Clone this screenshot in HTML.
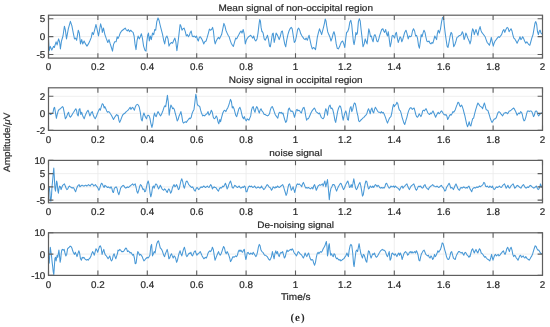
<!DOCTYPE html><html><head><meta charset="utf-8"><style>html,body{margin:0;padding:0;background:#fff;overflow:hidden;}svg{display:block;}text{font-family:"Liberation Sans",Arial,sans-serif;fill:#2b2b2b;text-rendering:geometricPrecision;stroke:#2b2b2b;stroke-width:0.22px;}</style></head><body>
<svg width="550" height="327" viewBox="0 0 550 327">
<rect width="550" height="327" fill="#fff"/>
<line x1="97.90" y1="15.20" x2="97.90" y2="58.10" stroke="#ebebeb" stroke-width="0.8"/>
<line x1="147.30" y1="15.20" x2="147.30" y2="58.10" stroke="#ebebeb" stroke-width="0.8"/>
<line x1="196.70" y1="15.20" x2="196.70" y2="58.10" stroke="#ebebeb" stroke-width="0.8"/>
<line x1="246.10" y1="15.20" x2="246.10" y2="58.10" stroke="#ebebeb" stroke-width="0.8"/>
<line x1="295.50" y1="15.20" x2="295.50" y2="58.10" stroke="#ebebeb" stroke-width="0.8"/>
<line x1="344.90" y1="15.20" x2="344.90" y2="58.10" stroke="#ebebeb" stroke-width="0.8"/>
<line x1="394.30" y1="15.20" x2="394.30" y2="58.10" stroke="#ebebeb" stroke-width="0.8"/>
<line x1="443.70" y1="15.20" x2="443.70" y2="58.10" stroke="#ebebeb" stroke-width="0.8"/>
<line x1="493.10" y1="15.20" x2="493.10" y2="58.10" stroke="#ebebeb" stroke-width="0.8"/>
<line x1="48.5" y1="54.52" x2="542.5" y2="54.52" stroke="#ebebeb" stroke-width="0.8"/>
<line x1="48.5" y1="36.65" x2="542.5" y2="36.65" stroke="#ebebeb" stroke-width="0.8"/>
<line x1="48.5" y1="18.77" x2="542.5" y2="18.77" stroke="#ebebeb" stroke-width="0.8"/>
<path d="M48.4,36.7 L49.2,50.7 L50.3,46.4 L51.8,50.1 L53.5,46.4 L54.3,47.5 L56.1,41.8 L57.1,44.9 L58.6,38.9 L59.6,41.8 L60.4,48.9 L61.5,41.0 L63.0,36.0 L64.4,26.2 L65.4,30.2 L66.5,38.9 L68.3,28.8 L70.4,21.3 L71.9,25.9 L73.3,33.1 L74.5,38.9 L75.5,38.1 L76.6,40.3 L78.3,30.2 L79.3,33.1 L80.5,43.9 L81.7,39.6 L82.7,43.9 L84.1,41.0 L85.5,43.9 L87.0,46.1 L88.4,43.9 L89.8,41.0 L91.3,37.4 L92.3,32.4 L93.4,34.6 L94.9,28.8 L96.0,24.5 L97.0,28.8 L98.5,36.0 L99.5,30.2 L100.6,23.8 L101.8,28.1 L102.3,32.4 L103.5,28.1 L104.9,34.6 L106.4,38.9 L107.8,42.5 L109.0,39.6 L110.0,43.2 L111.4,47.5 L112.5,51.1 L113.5,44.6 L114.7,41.8 L116.1,41.8 L117.2,36.7 L118.0,38.6 L119.2,36.0 L120.2,33.1 L121.6,31.0 L123.5,29.5 L125.2,28.1 L126.3,30.0 L127.3,31.0 L128.3,29.5 L129.5,31.7 L130.7,30.2 L131.7,31.4 L133.1,32.4 L134.1,36.0 L135.0,43.9 L136.0,49.6 L137.1,40.3 L138.1,36.0 L139.3,38.9 L140.3,36.7 L141.4,33.8 L142.4,38.1 L143.6,46.1 L145.0,50.4 L146.0,51.1 L146.8,41.8 L147.8,34.6 L148.5,33.1 L149.3,41.0 L150.3,36.0 L151.3,39.6 L152.5,33.1 L153.7,34.6 L154.7,29.5 L155.7,30.2 L156.8,21.6 L158.0,18.0 L159.0,20.2 L160.0,24.5 L161.1,28.8 L162.6,34.6 L163.7,40.3 L164.7,43.9 L165.7,38.1 L166.9,36.0 L168.0,38.9 L169.0,46.1 L170.0,43.9 L171.5,42.5 L172.6,43.2 L173.8,40.3 L174.9,38.1 L175.8,41.8 L176.9,50.7 L178.1,41.8 L179.1,33.1 L180.1,24.5 L180.9,25.9 L182.0,30.2 L183.0,28.8 L184.1,28.1 L185.3,31.7 L186.3,36.0 L187.4,34.6 L188.4,36.7 L189.4,35.3 L190.0,33.1 L191.2,31.0 L192.2,36.0 L193.2,36.7 L194.3,36.0 L195.5,37.4 L196.5,36.0 L197.5,39.6 L198.3,41.0 L199.3,37.4 L200.3,36.7 L201.5,38.6 L202.7,41.0 L203.7,43.9 L204.8,41.8 L206.1,41.0 L207.2,37.4 L208.4,33.1 L209.4,29.1 L210.4,30.2 L211.6,29.5 L212.6,27.4 L213.4,31.0 L214.4,40.3 L215.2,43.9 L216.2,41.0 L217.3,38.9 L218.5,37.4 L219.5,38.9 L220.5,36.7 L221.6,34.6 L222.8,28.8 L223.9,23.4 L224.9,25.9 L225.9,30.2 L227.1,33.1 L228.1,35.3 L229.1,36.7 L230.2,40.3 L231.2,43.2 L232.4,45.3 L233.4,46.4 L234.6,41.8 L235.7,38.1 L236.7,38.9 L237.7,36.7 L238.9,34.6 L240.0,32.4 L241.0,31.0 L242.0,33.1 L243.2,29.5 L244.2,33.8 L245.3,43.9 L246.3,40.3 L247.5,38.1 L248.6,36.7 L249.7,36.0 L250.7,35.3 L251.8,36.7 L252.8,38.1 L253.7,36.0 L254.7,39.6 L255.8,41.0 L257.0,38.9 L258.0,33.1 L259.0,24.5 L259.7,19.5 L260.4,20.9 L261.1,27.4 L261.9,31.7 L262.0,31.0 L263.1,33.1 L264.2,38.9 L265.2,40.3 L266.3,38.1 L267.5,35.3 L268.5,39.6 L269.5,46.1 L270.3,46.8 L271.3,41.0 L272.4,33.8 L273.2,33.1 L274.2,42.5 L275.2,38.1 L276.1,33.1 L277.1,34.6 L278.1,36.7 L279.2,39.6 L280.4,36.0 L281.4,31.7 L282.4,31.0 L283.6,38.1 L284.7,43.9 L285.7,46.8 L286.7,40.3 L287.9,34.6 L289.0,31.0 L290.0,28.8 L291.2,27.4 L292.2,28.8 L293.3,36.0 L294.3,42.5 L295.4,41.0 L296.5,36.0 L297.6,29.5 L298.6,28.1 L299.7,30.2 L300.8,33.8 L302.0,36.0 L303.0,37.4 L304.0,38.9 L305.1,39.6 L306.1,38.1 L307.3,40.3 L308.3,37.4 L309.1,35.3 L310.1,40.3 L311.2,45.3 L312.3,48.9 L313.5,47.5 L314.5,48.2 L315.5,49.6 L316.3,44.6 L317.3,37.4 L318.3,33.1 L319.5,28.8 L320.6,31.7 L321.6,34.6 L322.4,31.7 L323.5,27.4 L324.5,23.1 L325.2,19.0 L326.0,20.9 L326.7,25.9 L327.7,31.7 L328.8,34.6 L329.8,36.7 L331.0,41.0 L332.1,38.1 L333.1,33.8 L333.9,31.7 L334.0,31.7 L335.1,36.0 L336.2,43.9 L337.2,48.2 L338.3,48.9 L339.5,46.8 L340.5,43.9 L341.5,41.8 L342.6,41.0 L343.8,43.9 L344.8,47.5 L345.8,38.1 L346.6,32.4 L347.6,31.7 L348.7,28.8 L349.8,22.3 L350.8,20.2 L351.7,24.5 L352.4,31.7 L353.4,41.8 L354.1,44.6 L355.1,38.9 L355.9,32.4 L356.7,34.6 L357.4,33.1 L358.4,21.6 L359.3,18.8 L360.2,20.9 L361.0,28.8 L362.0,37.4 L363.0,46.8 L364.2,43.9 L365.2,38.9 L366.2,41.8 L367.1,43.9 L367.9,36.7 L368.8,28.8 L369.6,31.7 L370.5,36.7 L371.4,36.0 L372.2,39.6 L373.1,41.8 L374.0,36.0 L375.0,34.6 L376.0,37.4 L376.8,41.0 L377.8,41.8 L378.8,38.9 L379.7,35.3 L380.7,32.4 L381.7,29.5 L382.9,28.8 L383.7,31.0 L384.6,32.4 L385.7,29.5 L386.6,33.8 L387.5,36.0 L388.3,31.7 L389.3,39.6 L390.2,46.8 L391.2,42.5 L392.1,36.0 L392.9,35.3 L393.8,36.7 L394.6,38.1 L395.5,33.8 L396.4,32.4 L397.2,37.4 L398.2,42.5 L399.2,39.6 L400.1,36.7 L401.0,38.1 L401.8,41.8 L402.7,39.6 L403.7,36.0 L404.7,32.4 L405.9,30.2 L406.0,30.2 L407.1,33.8 L408.2,38.9 L409.2,36.0 L410.3,36.7 L411.5,36.0 L412.5,31.0 L413.5,28.8 L414.6,31.0 L415.6,36.0 L416.5,35.3 L417.5,38.1 L418.5,45.3 L419.4,48.2 L420.4,41.0 L421.2,34.6 L422.1,36.7 L423.0,33.1 L424.0,30.2 L425.0,32.4 L425.8,36.7 L426.8,41.0 L427.9,41.8 L429.0,41.0 L430.0,43.2 L430.9,43.9 L431.9,42.5 L432.9,43.2 L433.7,40.3 L434.8,36.0 L435.8,38.1 L436.6,39.6 L437.3,33.8 L438.3,30.2 L439.4,33.1 L440.5,28.8 L441.6,21.6 L442.6,17.3 L443.7,18.8 L444.5,27.4 L445.4,34.6 L446.2,40.3 L447.1,46.1 L448.0,47.5 L449.1,41.8 L450.1,36.0 L451.1,32.4 L452.0,33.8 L452.9,40.3 L453.7,46.8 L454.9,44.6 L456.0,41.0 L457.0,37.4 L458.2,36.7 L459.2,35.7 L460.3,35.3 L461.3,34.6 L462.3,31.7 L463.2,33.8 L464.1,39.6 L464.9,37.4 L465.8,33.1 L466.6,34.6 L467.8,38.1 L468.8,40.3 L469.7,42.5 L470.0,43.9 L471.0,40.3 L471.7,33.1 L472.6,28.8 L473.4,30.2 L474.3,34.6 L475.2,31.7 L476.0,29.5 L476.9,32.4 L477.9,35.3 L478.9,30.2 L480.1,26.6 L480.9,30.2 L481.8,32.4 L482.9,33.8 L484.1,35.3 L485.1,36.7 L486.1,39.6 L487.2,42.5 L488.4,43.9 L489.4,45.3 L490.4,41.8 L491.3,37.4 L492.3,41.8 L493.3,46.1 L494.1,43.2 L495.1,41.0 L496.2,39.6 L497.3,38.1 L498.5,36.7 L499.5,37.4 L500.5,36.0 L501.6,34.6 L502.8,31.0 L503.8,29.5 L504.8,32.4 L505.9,29.5 L507.1,27.4 L508.1,28.1 L509.1,31.7 L510.0,30.2 L511.0,28.8 L512.0,31.0 L512.8,34.6 L513.8,38.1 L514.8,38.9 L516.0,41.0 L517.1,43.2 L518.1,41.0 L519.2,38.9 L520.0,36.7 L520.9,39.6 L521.7,38.9 L522.6,36.7 L523.5,38.1 L524.6,41.0 L525.8,43.2 L526.8,41.8 L527.8,43.2 L528.9,44.6 L529.8,45.3 L530.6,42.5 L531.8,38.1 L533.0,34.6 L534.0,28.8 L535.0,23.1 L535.8,21.6 L536.7,24.5 L537.5,31.7 L538.4,34.6 L539.3,31.0 L540.1,30.2 L541.0,33.1 L541.9,33.8 L542.6,34.6" fill="none" stroke="#4898d6" stroke-width="1.05" stroke-linejoin="round"/>
<rect x="48.5" y="15.2" width="494.0" height="42.90" fill="none" stroke="#5e5e5e" stroke-width="1.2"/>
<path d="M48.50,58.1V53.20M48.50,15.2V20.10" stroke="#5e5e5e" stroke-width="1.1"/>
<text x="48.50" y="70.20" font-size="9.8" text-anchor="middle">0</text>
<path d="M97.90,58.1V53.20M97.90,15.2V20.10" stroke="#5e5e5e" stroke-width="1.1"/>
<text x="97.90" y="70.20" font-size="9.8" text-anchor="middle">0.2</text>
<path d="M147.30,58.1V53.20M147.30,15.2V20.10" stroke="#5e5e5e" stroke-width="1.1"/>
<text x="147.30" y="70.20" font-size="9.8" text-anchor="middle">0.4</text>
<path d="M196.70,58.1V53.20M196.70,15.2V20.10" stroke="#5e5e5e" stroke-width="1.1"/>
<text x="196.70" y="70.20" font-size="9.8" text-anchor="middle">0.6</text>
<path d="M246.10,58.1V53.20M246.10,15.2V20.10" stroke="#5e5e5e" stroke-width="1.1"/>
<text x="246.10" y="70.20" font-size="9.8" text-anchor="middle">0.8</text>
<path d="M295.50,58.1V53.20M295.50,15.2V20.10" stroke="#5e5e5e" stroke-width="1.1"/>
<text x="295.50" y="70.20" font-size="9.8" text-anchor="middle">1</text>
<path d="M344.90,58.1V53.20M344.90,15.2V20.10" stroke="#5e5e5e" stroke-width="1.1"/>
<text x="344.90" y="70.20" font-size="9.8" text-anchor="middle">1.2</text>
<path d="M394.30,58.1V53.20M394.30,15.2V20.10" stroke="#5e5e5e" stroke-width="1.1"/>
<text x="394.30" y="70.20" font-size="9.8" text-anchor="middle">1.4</text>
<path d="M443.70,58.1V53.20M443.70,15.2V20.10" stroke="#5e5e5e" stroke-width="1.1"/>
<text x="443.70" y="70.20" font-size="9.8" text-anchor="middle">1.6</text>
<path d="M493.10,58.1V53.20M493.10,15.2V20.10" stroke="#5e5e5e" stroke-width="1.1"/>
<text x="493.10" y="70.20" font-size="9.8" text-anchor="middle">1.8</text>
<path d="M542.50,58.1V53.20M542.50,15.2V20.10" stroke="#5e5e5e" stroke-width="1.1"/>
<text x="542.50" y="70.20" font-size="9.8" text-anchor="middle">2</text>
<path d="M48.5,54.52H53.40M542.5,54.52H537.60" stroke="#5e5e5e" stroke-width="1.1"/>
<text x="45.30" y="58.02" font-size="9.8" text-anchor="end">-5</text>
<path d="M48.5,36.65H53.40M542.5,36.65H537.60" stroke="#5e5e5e" stroke-width="1.1"/>
<text x="45.30" y="40.15" font-size="9.8" text-anchor="end">0</text>
<path d="M48.5,18.77H53.40M542.5,18.77H537.60" stroke="#5e5e5e" stroke-width="1.1"/>
<text x="45.30" y="22.27" font-size="9.8" text-anchor="end">5</text>
<text transform="translate(295.70,11.10) scale(1,0.93)" font-size="10" text-anchor="middle">Mean signal of non-occipital region</text>
<line x1="97.90" y1="87.80" x2="97.90" y2="130.40" stroke="#ebebeb" stroke-width="0.8"/>
<line x1="147.30" y1="87.80" x2="147.30" y2="130.40" stroke="#ebebeb" stroke-width="0.8"/>
<line x1="196.70" y1="87.80" x2="196.70" y2="130.40" stroke="#ebebeb" stroke-width="0.8"/>
<line x1="246.10" y1="87.80" x2="246.10" y2="130.40" stroke="#ebebeb" stroke-width="0.8"/>
<line x1="295.50" y1="87.80" x2="295.50" y2="130.40" stroke="#ebebeb" stroke-width="0.8"/>
<line x1="344.90" y1="87.80" x2="344.90" y2="130.40" stroke="#ebebeb" stroke-width="0.8"/>
<line x1="394.30" y1="87.80" x2="394.30" y2="130.40" stroke="#ebebeb" stroke-width="0.8"/>
<line x1="443.70" y1="87.80" x2="443.70" y2="130.40" stroke="#ebebeb" stroke-width="0.8"/>
<line x1="493.10" y1="87.80" x2="493.10" y2="130.40" stroke="#ebebeb" stroke-width="0.8"/>
<line x1="48.5" y1="113.36" x2="542.5" y2="113.36" stroke="#ebebeb" stroke-width="0.8"/>
<line x1="48.5" y1="96.32" x2="542.5" y2="96.32" stroke="#ebebeb" stroke-width="0.8"/>
<path d="M48.4,113.5 L49.6,113.8 L50.6,114.5 L51.8,113.8 L52.9,113.0 L53.9,108.0 L54.6,107.3 L55.3,111.6 L56.4,118.3 L57.2,114.5 L58.2,110.9 L59.2,109.4 L60.4,108.7 L61.5,107.7 L62.5,106.6 L63.2,107.3 L64.2,112.3 L65.4,118.8 L66.4,117.3 L67.6,113.8 L68.6,112.3 L69.4,115.9 L70.4,117.3 L71.4,115.9 L72.6,113.8 L73.6,112.3 L74.8,110.2 L75.8,108.7 L76.5,110.2 L77.3,114.5 L78.2,115.9 L79.1,109.4 L79.9,108.7 L80.8,114.5 L81.7,112.3 L82.5,115.2 L83.4,117.3 L84.2,118.8 L85.1,115.9 L86.0,113.8 L87.0,111.6 L88.0,110.2 L88.8,112.3 L89.8,115.9 L90.6,114.5 L91.4,112.3 L92.3,111.6 L93.1,114.5 L94.2,117.3 L95.2,118.8 L96.3,116.6 L97.3,113.8 L98.5,110.9 L99.5,108.7 L100.3,110.2 L101.3,106.6 L102.3,103.7 L103.2,104.4 L104.2,108.0 L104.9,106.6 L105.8,108.7 L106.7,110.9 L107.5,112.3 L108.5,111.6 L109.5,112.3 L110.4,113.8 L111.4,115.2 L112.4,117.3 L113.5,119.5 L114.7,117.3 L115.7,115.9 L116.7,114.5 L117.9,115.9 L118.0,115.2 L118.9,120.2 L119.7,122.4 L120.9,119.5 L122.0,116.6 L123.0,114.5 L124.0,113.8 L125.2,113.0 L126.2,111.6 L127.2,110.9 L128.1,110.2 L129.1,108.7 L130.1,107.3 L130.9,109.4 L131.8,108.0 L132.7,107.3 L133.5,108.7 L134.4,110.2 L135.2,107.3 L136.2,105.1 L137.3,104.4 L138.4,105.1 L139.3,107.3 L140.3,112.3 L141.3,119.5 L142.2,120.9 L143.0,115.9 L143.9,113.0 L144.7,115.2 L145.6,117.3 L146.5,118.8 L147.3,115.9 L148.2,115.2 L149.1,115.9 L149.9,118.1 L150.8,123.1 L151.9,127.4 L152.8,123.8 L153.7,116.6 L154.5,113.0 L155.4,115.9 L156.2,116.6 L157.1,113.8 L158.0,111.6 L158.8,113.0 L159.7,114.5 L160.5,115.9 L161.4,114.5 L162.3,112.3 L163.1,110.2 L164.0,107.3 L164.9,105.8 L165.7,106.6 L166.6,100.8 L167.4,95.3 L168.3,102.2 L169.2,115.2 L170.0,109.4 L170.9,105.1 L171.8,106.6 L172.6,108.7 L173.5,108.0 L174.3,109.4 L175.2,113.0 L176.2,116.6 L177.2,120.9 L178.1,119.5 L179.1,115.9 L180.1,113.8 L180.9,111.6 L181.8,115.9 L182.7,121.7 L183.5,123.1 L184.4,122.4 L185.3,121.7 L186.3,122.4 L187.3,120.9 L188.4,119.5 L189.4,118.1 L190.0,118.8 L191.2,117.3 L192.0,113.8 L192.9,111.6 L194.0,109.4 L194.9,102.2 L195.8,94.3 L196.5,97.2 L197.2,103.7 L198.1,105.8 L198.9,105.8 L199.8,106.6 L200.6,110.2 L201.5,113.0 L202.7,115.9 L203.7,115.2 L204.7,115.9 L205.8,114.5 L207.0,113.8 L208.0,111.6 L209.0,115.2 L210.1,113.8 L211.3,110.2 L212.3,112.3 L213.3,117.3 L214.2,118.8 L215.2,118.1 L216.2,115.9 L217.0,117.3 L218.0,121.7 L218.8,123.8 L219.8,119.5 L220.6,121.7 L221.6,117.3 L222.8,113.0 L223.8,110.9 L224.8,110.2 L225.9,111.6 L226.8,109.4 L227.7,108.0 L228.8,105.1 L229.7,102.2 L230.5,99.4 L231.4,101.5 L232.3,108.0 L233.1,106.6 L234.0,108.7 L234.8,111.6 L235.7,115.2 L236.7,116.6 L237.7,113.0 L238.9,108.7 L239.9,107.3 L240.9,110.2 L241.7,113.8 L242.6,117.3 L243.5,118.8 L244.3,116.6 L245.3,119.5 L246.3,120.9 L247.2,118.8 L248.1,119.5 L248.9,120.2 L249.8,118.1 L250.7,115.9 L251.5,110.2 L252.4,107.3 L253.2,106.6 L254.1,110.2 L255.0,112.3 L255.8,108.7 L256.7,106.6 L257.6,108.0 L258.4,110.9 L259.3,113.0 L260.1,110.2 L261.0,108.7 L261.9,110.9 L262.0,110.9 L263.1,112.3 L264.2,114.5 L265.2,114.5 L266.3,115.2 L267.5,115.9 L268.5,115.2 L269.5,113.8 L270.3,110.2 L271.3,107.3 L272.4,106.6 L273.2,108.7 L274.2,111.6 L275.2,114.5 L276.1,115.9 L277.1,117.3 L277.8,118.1 L278.7,113.8 L279.5,112.3 L280.4,113.0 L281.3,112.3 L282.1,113.8 L283.0,113.0 L283.9,116.6 L284.7,119.5 L285.7,122.4 L286.7,120.9 L287.6,115.2 L288.4,109.4 L289.3,108.0 L290.2,110.2 L291.0,111.6 L291.9,110.9 L292.8,111.6 L293.6,113.8 L294.5,117.3 L295.4,113.8 L296.2,110.2 L297.1,109.4 L297.9,110.9 L298.8,110.2 L299.7,110.9 L300.5,112.3 L301.4,113.0 L302.2,110.2 L303.1,108.0 L304.0,107.3 L304.8,110.2 L305.7,115.9 L306.6,120.2 L307.4,118.8 L308.3,118.8 L309.1,117.3 L310.0,115.2 L310.9,113.0 L312.0,110.9 L313.2,109.4 L314.3,108.0 L315.2,109.4 L316.0,111.6 L316.9,112.3 L317.8,113.0 L318.6,113.8 L319.5,113.0 L320.4,115.2 L321.2,117.3 L322.1,118.1 L323.1,118.8 L324.1,117.3 L324.9,112.3 L325.8,108.7 L326.7,110.9 L327.5,115.2 L328.4,108.7 L329.3,105.8 L330.1,105.1 L331.0,108.7 L331.9,108.0 L332.7,109.4 L333.6,113.0 L334.0,115.2 L334.9,120.2 L335.7,122.4 L336.6,117.3 L337.6,111.6 L338.6,108.0 L339.8,105.8 L340.6,106.6 L341.5,110.2 L342.3,115.9 L343.2,120.2 L344.1,115.9 L344.9,113.0 L345.8,110.9 L346.6,113.8 L347.5,119.5 L348.4,120.2 L349.2,113.0 L350.1,108.0 L351.0,106.6 L351.8,111.6 L352.7,109.4 L353.6,105.1 L354.4,103.0 L355.3,103.7 L356.1,107.3 L357.0,112.3 L357.9,115.9 L358.7,120.9 L359.6,121.7 L360.6,120.2 L361.6,119.5 L362.8,118.1 L363.9,117.3 L365.1,115.9 L365.9,115.2 L366.8,113.8 L367.6,110.9 L368.5,108.7 L369.4,110.9 L370.2,113.8 L371.1,109.4 L371.9,108.0 L372.8,111.6 L373.7,113.0 L374.5,109.4 L375.4,107.3 L376.3,108.7 L377.1,110.2 L378.0,111.6 L378.8,112.3 L379.7,112.3 L380.6,113.0 L381.4,111.6 L382.3,113.0 L383.2,112.3 L384.0,113.8 L384.9,115.9 L385.7,118.1 L386.6,120.9 L387.5,123.1 L388.3,120.9 L389.2,118.8 L390.1,117.3 L390.9,116.6 L391.8,113.0 L392.6,108.0 L393.5,104.4 L394.4,106.6 L395.2,105.1 L396.1,104.4 L396.9,102.2 L397.8,103.7 L398.7,108.0 L399.5,110.2 L400.4,110.9 L401.3,113.8 L402.1,117.3 L403.0,120.2 L403.9,123.1 L404.7,124.5 L405.6,121.7 L406.0,120.2 L406.9,117.3 L407.7,113.8 L408.6,110.9 L409.6,108.7 L410.6,107.7 L411.5,108.0 L412.3,109.4 L413.2,108.7 L414.1,108.0 L414.9,110.9 L415.8,114.5 L416.6,116.6 L417.5,117.3 L418.4,115.9 L419.2,113.8 L420.1,115.2 L420.9,116.6 L421.8,114.5 L422.7,110.9 L423.5,110.2 L424.4,110.9 L425.3,109.4 L426.1,108.7 L427.0,110.9 L427.9,113.0 L428.7,113.8 L429.6,114.5 L430.4,113.0 L431.3,113.8 L432.2,112.3 L433.0,110.9 L433.9,113.0 L434.8,115.2 L435.6,117.3 L436.5,115.2 L437.3,113.8 L438.2,112.3 L439.1,113.8 L439.9,113.0 L440.8,111.6 L441.6,110.9 L442.5,112.3 L443.4,113.8 L444.2,114.5 L445.1,115.2 L446.0,114.5 L446.8,115.9 L447.7,119.5 L448.5,118.1 L449.4,115.9 L450.3,114.5 L451.1,115.2 L452.0,113.8 L452.9,111.6 L453.7,112.3 L454.6,110.9 L455.4,109.4 L456.3,106.6 L457.2,104.4 L458.0,102.2 L458.9,103.0 L459.8,105.8 L460.6,106.6 L461.5,105.1 L462.3,106.6 L463.2,109.4 L464.1,113.0 L464.9,115.9 L465.8,120.2 L466.6,123.8 L467.5,126.7 L468.4,124.5 L469.2,121.7 L470.0,125.2 L470.9,126.0 L471.7,122.4 L472.6,118.8 L473.6,118.1 L474.6,113.8 L475.8,109.4 L476.9,105.8 L477.9,103.0 L478.9,104.4 L479.8,105.8 L480.8,106.6 L481.8,107.3 L482.6,108.7 L483.6,105.1 L484.4,103.0 L485.2,105.8 L486.1,109.4 L487.0,110.2 L487.8,110.2 L488.7,113.0 L489.6,115.9 L490.4,118.8 L491.3,120.9 L492.1,122.4 L493.0,120.9 L493.9,119.5 L494.7,118.8 L495.6,118.8 L496.4,117.3 L497.3,114.5 L498.2,112.3 L499.0,111.6 L499.9,112.3 L500.8,113.8 L501.6,114.5 L502.5,115.9 L503.4,114.5 L504.2,113.0 L505.1,113.0 L505.9,112.3 L506.8,113.0 L507.7,113.8 L508.5,112.3 L509.4,110.9 L510.2,110.9 L511.1,110.2 L512.0,109.4 L512.8,108.7 L513.7,108.0 L514.6,109.4 L515.4,110.9 L516.3,113.0 L517.1,115.2 L518.0,113.8 L518.9,113.0 L519.7,113.8 L520.6,111.6 L521.5,112.3 L522.3,114.5 L523.2,118.8 L524.0,120.9 L524.9,120.2 L525.8,117.3 L526.6,113.8 L527.5,110.9 L528.4,110.9 L529.2,111.6 L530.1,110.9 L530.9,110.9 L531.8,111.6 L532.7,113.8 L533.5,116.6 L534.4,115.2 L535.2,111.6 L536.1,110.9 L537.0,111.6 L537.8,114.5 L538.7,115.9 L539.6,114.5 L540.4,113.8 L541.3,113.0 L542.3,113.0" fill="none" stroke="#4898d6" stroke-width="1.05" stroke-linejoin="round"/>
<rect x="48.5" y="87.8" width="494.0" height="42.60" fill="none" stroke="#5e5e5e" stroke-width="1.2"/>
<path d="M48.50,130.4V125.50M48.50,87.8V92.70" stroke="#5e5e5e" stroke-width="1.1"/>
<text x="48.50" y="142.50" font-size="9.8" text-anchor="middle">0</text>
<path d="M97.90,130.4V125.50M97.90,87.8V92.70" stroke="#5e5e5e" stroke-width="1.1"/>
<text x="97.90" y="142.50" font-size="9.8" text-anchor="middle">0.2</text>
<path d="M147.30,130.4V125.50M147.30,87.8V92.70" stroke="#5e5e5e" stroke-width="1.1"/>
<text x="147.30" y="142.50" font-size="9.8" text-anchor="middle">0.4</text>
<path d="M196.70,130.4V125.50M196.70,87.8V92.70" stroke="#5e5e5e" stroke-width="1.1"/>
<text x="196.70" y="142.50" font-size="9.8" text-anchor="middle">0.6</text>
<path d="M246.10,130.4V125.50M246.10,87.8V92.70" stroke="#5e5e5e" stroke-width="1.1"/>
<text x="246.10" y="142.50" font-size="9.8" text-anchor="middle">0.8</text>
<path d="M295.50,130.4V125.50M295.50,87.8V92.70" stroke="#5e5e5e" stroke-width="1.1"/>
<text x="295.50" y="142.50" font-size="9.8" text-anchor="middle">1</text>
<path d="M344.90,130.4V125.50M344.90,87.8V92.70" stroke="#5e5e5e" stroke-width="1.1"/>
<text x="344.90" y="142.50" font-size="9.8" text-anchor="middle">1.2</text>
<path d="M394.30,130.4V125.50M394.30,87.8V92.70" stroke="#5e5e5e" stroke-width="1.1"/>
<text x="394.30" y="142.50" font-size="9.8" text-anchor="middle">1.4</text>
<path d="M443.70,130.4V125.50M443.70,87.8V92.70" stroke="#5e5e5e" stroke-width="1.1"/>
<text x="443.70" y="142.50" font-size="9.8" text-anchor="middle">1.6</text>
<path d="M493.10,130.4V125.50M493.10,87.8V92.70" stroke="#5e5e5e" stroke-width="1.1"/>
<text x="493.10" y="142.50" font-size="9.8" text-anchor="middle">1.8</text>
<path d="M542.50,130.4V125.50M542.50,87.8V92.70" stroke="#5e5e5e" stroke-width="1.1"/>
<text x="542.50" y="142.50" font-size="9.8" text-anchor="middle">2</text>
<path d="M48.5,130.40H53.40M542.5,130.40H537.60" stroke="#5e5e5e" stroke-width="1.1"/>
<text x="45.30" y="133.90" font-size="9.8" text-anchor="end">-2</text>
<path d="M48.5,113.36H53.40M542.5,113.36H537.60" stroke="#5e5e5e" stroke-width="1.1"/>
<text x="45.30" y="116.86" font-size="9.8" text-anchor="end">0</text>
<path d="M48.5,96.32H53.40M542.5,96.32H537.60" stroke="#5e5e5e" stroke-width="1.1"/>
<text x="45.30" y="99.82" font-size="9.8" text-anchor="end">2</text>
<text transform="translate(295.70,83.20) scale(1,0.93)" font-size="10" text-anchor="middle">Noisy signal in occipital region</text>
<line x1="97.90" y1="160.40" x2="97.90" y2="202.80" stroke="#ebebeb" stroke-width="0.8"/>
<line x1="147.30" y1="160.40" x2="147.30" y2="202.80" stroke="#ebebeb" stroke-width="0.8"/>
<line x1="196.70" y1="160.40" x2="196.70" y2="202.80" stroke="#ebebeb" stroke-width="0.8"/>
<line x1="246.10" y1="160.40" x2="246.10" y2="202.80" stroke="#ebebeb" stroke-width="0.8"/>
<line x1="295.50" y1="160.40" x2="295.50" y2="202.80" stroke="#ebebeb" stroke-width="0.8"/>
<line x1="344.90" y1="160.40" x2="344.90" y2="202.80" stroke="#ebebeb" stroke-width="0.8"/>
<line x1="394.30" y1="160.40" x2="394.30" y2="202.80" stroke="#ebebeb" stroke-width="0.8"/>
<line x1="443.70" y1="160.40" x2="443.70" y2="202.80" stroke="#ebebeb" stroke-width="0.8"/>
<line x1="493.10" y1="160.40" x2="493.10" y2="202.80" stroke="#ebebeb" stroke-width="0.8"/>
<line x1="48.5" y1="200.15" x2="542.5" y2="200.15" stroke="#ebebeb" stroke-width="0.8"/>
<line x1="48.5" y1="186.90" x2="542.5" y2="186.90" stroke="#ebebeb" stroke-width="0.8"/>
<line x1="48.5" y1="173.65" x2="542.5" y2="173.65" stroke="#ebebeb" stroke-width="0.8"/>
<path d="M48.4,187.5 L49.2,186.8 L49.9,192.5 L50.3,200.4 L50.9,201.1 L51.5,195.4 L52.0,186.8 L52.6,181.0 L53.2,173.8 L53.8,168.1 L54.3,176.7 L54.9,188.2 L55.5,191.1 L56.1,185.3 L56.6,181.0 L57.2,183.2 L57.8,190.3 L58.4,193.2 L58.9,188.9 L59.6,186.0 L60.4,186.8 L61.1,189.6 L61.8,187.5 L62.7,185.3 L63.5,184.6 L64.4,183.9 L65.3,186.0 L66.1,188.2 L67.0,189.6 L67.8,188.9 L68.7,186.8 L69.6,186.0 L70.4,186.8 L71.3,187.5 L72.2,188.2 L73.0,187.5 L73.9,188.2 L74.8,190.3 L75.6,191.8 L76.5,188.9 L77.3,186.8 L78.2,185.3 L79.1,184.6 L79.9,186.8 L80.8,186.0 L81.7,185.3 L82.5,185.3 L83.4,186.0 L84.2,186.0 L85.1,185.3 L86.0,185.3 L86.8,186.0 L87.7,185.3 L88.5,184.6 L89.4,185.3 L90.3,186.0 L91.1,184.6 L92.0,183.9 L92.9,184.6 L93.7,186.0 L94.6,185.3 L95.4,184.6 L96.3,186.0 L97.2,186.8 L98.0,188.2 L98.9,190.3 L99.8,188.2 L100.6,185.3 L101.5,183.2 L102.3,183.9 L103.2,186.0 L104.1,187.5 L104.9,185.3 L105.8,186.0 L106.7,186.8 L107.5,187.5 L108.4,186.8 L109.2,187.5 L110.1,188.2 L111.0,186.8 L111.8,188.2 L112.7,191.8 L113.5,192.5 L114.4,188.2 L115.3,187.5 L116.1,186.8 L117.0,188.2 L117.9,192.5 L118.0,192.5 L118.9,194.7 L119.7,191.8 L120.6,188.2 L121.5,186.8 L122.3,186.0 L123.2,185.3 L124.0,186.0 L124.9,187.5 L125.8,188.2 L126.6,187.5 L127.5,186.8 L128.3,187.5 L129.2,186.8 L130.1,186.0 L130.9,185.3 L131.8,184.6 L132.7,183.9 L133.5,185.3 L134.4,184.6 L135.2,183.9 L136.1,187.5 L137.0,191.8 L137.8,193.2 L138.7,190.3 L139.6,186.8 L140.4,184.6 L141.3,185.3 L142.2,187.5 L143.0,189.6 L143.9,188.9 L144.7,191.8 L145.6,191.1 L146.5,186.8 L147.3,183.2 L148.2,181.0 L149.1,184.6 L149.9,191.8 L150.8,196.8 L151.6,193.9 L152.5,187.5 L153.4,186.0 L154.2,188.2 L155.1,185.3 L155.9,183.9 L156.8,184.6 L157.7,186.8 L158.5,188.9 L159.4,187.5 L160.3,185.3 L161.1,186.8 L162.0,188.9 L162.8,189.6 L163.7,190.3 L164.6,188.9 L165.4,189.6 L166.3,191.1 L167.2,192.5 L168.0,190.3 L168.9,188.9 L169.7,190.3 L170.6,193.2 L171.5,191.8 L172.3,188.2 L173.2,186.0 L174.1,184.6 L174.9,186.8 L175.8,186.0 L176.6,184.6 L177.5,186.8 L178.4,189.6 L179.2,188.9 L180.1,184.6 L180.9,181.0 L181.8,178.8 L182.7,181.7 L183.5,186.0 L184.4,188.2 L185.3,184.6 L186.1,181.7 L187.0,181.0 L187.8,182.4 L188.7,184.6 L189.6,185.3 L190.0,186.0 L190.9,186.8 L191.7,187.5 L192.6,186.8 L193.4,188.2 L194.3,190.3 L195.2,191.1 L196.0,188.9 L196.9,187.5 L197.8,188.2 L198.6,189.6 L199.5,188.9 L200.3,187.5 L201.2,186.8 L202.1,187.5 L202.9,186.8 L203.8,186.0 L204.7,186.8 L205.5,187.5 L206.4,186.8 L207.2,186.0 L208.1,186.8 L209.0,187.5 L209.8,186.0 L210.7,184.6 L211.6,186.0 L212.4,188.9 L213.3,187.5 L214.2,186.8 L215.0,187.5 L215.9,187.5 L216.7,188.9 L217.6,190.3 L218.5,191.1 L219.3,188.9 L220.2,187.5 L221.1,188.2 L221.9,187.5 L222.8,186.0 L223.6,186.8 L224.5,185.3 L225.4,183.2 L226.2,185.3 L227.1,188.9 L227.9,187.5 L228.8,184.6 L229.7,182.4 L230.5,181.0 L231.4,183.9 L232.3,187.5 L233.1,188.2 L234.0,186.8 L234.8,185.3 L235.7,186.0 L236.6,186.8 L237.4,187.5 L238.3,186.8 L239.2,186.0 L240.0,187.5 L240.9,188.2 L241.7,187.5 L242.6,186.8 L243.5,187.5 L244.3,186.0 L245.2,186.8 L246.1,191.8 L246.9,191.8 L247.8,188.9 L248.6,186.8 L249.5,186.0 L250.4,186.8 L251.2,186.0 L252.1,186.8 L252.9,187.5 L253.8,186.8 L254.7,186.0 L255.5,187.5 L256.4,188.2 L257.3,187.5 L258.1,186.8 L259.0,187.5 L259.9,188.2 L260.7,187.5 L261.6,186.0 L262.0,187.5 L262.9,188.2 L263.7,189.6 L264.6,188.9 L265.4,187.5 L266.3,186.0 L267.2,184.6 L268.0,185.3 L268.9,186.8 L269.8,187.5 L270.6,188.2 L271.5,190.3 L272.4,188.9 L273.2,186.8 L274.1,187.5 L274.9,188.2 L275.8,186.8 L276.7,187.5 L277.5,186.0 L278.4,186.8 L279.2,187.5 L280.1,186.8 L281.0,186.0 L281.8,185.3 L282.7,184.6 L283.6,186.8 L284.4,189.6 L285.3,192.5 L286.1,195.4 L287.0,193.2 L287.9,188.2 L288.7,184.6 L289.6,183.9 L290.5,186.8 L291.3,190.3 L292.2,188.9 L293.1,186.8 L293.9,189.6 L294.8,192.5 L295.6,188.9 L296.5,185.3 L297.4,183.9 L298.2,184.6 L299.1,183.9 L299.9,184.6 L300.8,185.3 L301.7,186.8 L302.5,183.9 L303.4,182.4 L304.3,184.6 L305.1,186.8 L306.0,188.2 L306.8,187.5 L307.7,188.2 L308.6,187.5 L309.4,188.2 L310.3,188.9 L311.2,188.2 L312.0,187.5 L312.9,188.9 L313.7,186.0 L314.6,184.6 L315.5,187.5 L316.3,190.3 L317.2,188.2 L318.1,186.0 L318.9,185.3 L319.8,184.6 L320.6,185.3 L321.5,184.6 L322.4,183.9 L323.2,186.0 L324.1,183.2 L324.9,181.0 L325.8,186.8 L326.7,183.2 L327.5,179.6 L328.4,188.9 L329.3,199.7 L330.1,192.5 L331.0,188.2 L331.9,186.8 L332.7,184.6 L333.6,184.6 L334.0,184.6 L334.9,186.0 L335.7,188.9 L336.6,191.1 L337.4,188.9 L338.3,186.8 L339.2,185.3 L340.0,183.9 L340.9,183.2 L341.8,185.3 L342.6,187.5 L343.5,189.6 L344.4,188.2 L345.2,186.0 L346.1,183.9 L346.9,182.4 L347.8,181.0 L348.7,183.9 L349.5,187.5 L350.4,186.8 L351.2,184.6 L352.1,187.5 L353.0,183.2 L353.8,178.8 L354.7,183.9 L355.6,188.2 L356.4,189.6 L357.3,188.2 L358.1,186.0 L359.0,183.9 L359.9,182.4 L360.7,185.3 L361.6,190.3 L362.5,196.1 L363.3,194.7 L364.2,188.9 L365.1,183.9 L365.9,181.0 L366.8,181.7 L367.6,185.3 L368.5,188.9 L369.4,188.2 L370.2,186.0 L371.1,186.8 L371.9,187.5 L372.8,186.0 L373.7,187.5 L374.5,186.0 L375.4,184.6 L376.3,185.3 L377.1,186.8 L378.0,185.3 L378.8,186.0 L379.7,187.5 L380.6,188.2 L381.4,187.5 L382.3,188.2 L383.2,187.5 L384.0,188.2 L384.9,186.8 L385.7,183.9 L386.6,183.2 L387.5,185.3 L388.3,186.8 L389.2,188.2 L390.1,187.5 L390.9,186.0 L391.8,186.8 L392.6,186.8 L393.5,186.0 L394.4,187.5 L395.2,186.0 L396.1,186.8 L396.9,187.5 L397.8,188.2 L398.7,188.9 L399.5,190.3 L400.4,188.2 L401.3,186.8 L402.1,186.0 L403.0,188.2 L403.9,186.8 L404.7,186.0 L405.6,185.3 L406.0,184.6 L406.9,183.9 L407.7,186.0 L408.6,188.2 L409.4,189.6 L410.3,187.5 L411.2,186.0 L412.0,185.3 L412.9,184.6 L413.8,183.9 L414.6,186.0 L415.5,188.9 L416.4,190.3 L417.2,188.9 L418.1,186.8 L418.9,186.0 L419.8,186.8 L420.7,186.0 L421.5,187.5 L422.4,188.2 L423.2,187.5 L424.1,185.3 L425.0,184.6 L425.8,186.8 L426.7,188.2 L427.6,188.9 L428.4,189.6 L429.3,187.5 L430.1,186.8 L431.0,186.0 L431.9,185.3 L432.7,184.6 L433.6,186.0 L434.5,186.0 L435.3,186.8 L436.2,186.8 L437.1,186.0 L437.9,186.8 L438.8,187.5 L439.6,186.8 L440.5,186.0 L441.4,185.3 L442.2,186.8 L443.1,187.5 L443.9,188.9 L444.8,191.1 L445.7,190.3 L446.5,187.5 L447.4,186.0 L448.3,184.6 L449.1,183.2 L450.0,185.3 L450.8,188.2 L451.7,187.5 L452.6,188.2 L453.4,189.6 L454.3,187.5 L455.2,185.3 L456.0,183.9 L456.9,186.0 L457.7,188.2 L458.6,189.6 L459.5,190.3 L460.3,188.2 L461.2,187.5 L462.1,188.2 L462.9,187.5 L463.8,186.8 L464.6,187.5 L465.5,188.2 L466.4,187.5 L467.2,188.2 L468.1,186.8 L468.9,186.0 L469.8,188.2 L470.0,188.9 L470.9,190.3 L471.7,191.8 L472.6,188.9 L473.4,188.2 L474.3,187.5 L475.2,188.2 L476.0,187.5 L476.9,186.8 L477.8,187.5 L478.6,186.8 L479.5,186.0 L480.4,186.8 L481.2,186.0 L482.1,185.3 L482.9,184.6 L483.8,182.4 L484.7,183.2 L485.5,186.0 L486.4,186.8 L487.2,186.0 L488.1,186.8 L489.0,187.5 L489.8,186.0 L490.7,186.8 L491.6,187.5 L492.4,186.0 L493.3,188.2 L494.1,189.6 L495.0,188.9 L495.9,187.5 L496.7,186.8 L497.6,187.5 L498.5,186.8 L499.3,186.0 L500.2,186.8 L501.1,187.5 L501.9,186.8 L502.8,185.3 L503.6,184.6 L504.5,183.9 L505.4,186.0 L506.2,188.2 L507.1,186.8 L507.9,185.3 L508.8,187.5 L509.7,188.2 L510.5,186.8 L511.4,185.3 L512.3,184.6 L513.1,183.9 L514.0,186.0 L514.8,188.2 L515.7,187.5 L516.6,186.0 L517.4,185.3 L518.3,186.0 L519.2,186.8 L520.0,187.5 L520.9,188.2 L521.7,186.8 L522.6,185.3 L523.5,184.6 L524.3,186.0 L525.2,187.5 L526.1,188.2 L526.9,187.5 L527.8,186.8 L528.6,187.5 L529.5,186.0 L530.4,185.3 L531.2,186.0 L532.1,186.8 L533.0,187.5 L533.8,188.2 L534.7,187.5 L535.5,186.8 L536.4,186.0 L537.3,188.2 L538.1,189.6 L539.0,188.9 L539.9,186.8 L540.4,183.9 L541.0,185.3 L541.9,187.5 L542.6,186.8" fill="none" stroke="#4898d6" stroke-width="1.05" stroke-linejoin="round"/>
<rect x="48.5" y="160.4" width="494.0" height="42.40" fill="none" stroke="#5e5e5e" stroke-width="1.2"/>
<path d="M48.50,202.8V197.90M48.50,160.4V165.30" stroke="#5e5e5e" stroke-width="1.1"/>
<text x="48.50" y="214.90" font-size="9.8" text-anchor="middle">0</text>
<path d="M97.90,202.8V197.90M97.90,160.4V165.30" stroke="#5e5e5e" stroke-width="1.1"/>
<text x="97.90" y="214.90" font-size="9.8" text-anchor="middle">0.2</text>
<path d="M147.30,202.8V197.90M147.30,160.4V165.30" stroke="#5e5e5e" stroke-width="1.1"/>
<text x="147.30" y="214.90" font-size="9.8" text-anchor="middle">0.4</text>
<path d="M196.70,202.8V197.90M196.70,160.4V165.30" stroke="#5e5e5e" stroke-width="1.1"/>
<text x="196.70" y="214.90" font-size="9.8" text-anchor="middle">0.6</text>
<path d="M246.10,202.8V197.90M246.10,160.4V165.30" stroke="#5e5e5e" stroke-width="1.1"/>
<text x="246.10" y="214.90" font-size="9.8" text-anchor="middle">0.8</text>
<path d="M295.50,202.8V197.90M295.50,160.4V165.30" stroke="#5e5e5e" stroke-width="1.1"/>
<text x="295.50" y="214.90" font-size="9.8" text-anchor="middle">1</text>
<path d="M344.90,202.8V197.90M344.90,160.4V165.30" stroke="#5e5e5e" stroke-width="1.1"/>
<text x="344.90" y="214.90" font-size="9.8" text-anchor="middle">1.2</text>
<path d="M394.30,202.8V197.90M394.30,160.4V165.30" stroke="#5e5e5e" stroke-width="1.1"/>
<text x="394.30" y="214.90" font-size="9.8" text-anchor="middle">1.4</text>
<path d="M443.70,202.8V197.90M443.70,160.4V165.30" stroke="#5e5e5e" stroke-width="1.1"/>
<text x="443.70" y="214.90" font-size="9.8" text-anchor="middle">1.6</text>
<path d="M493.10,202.8V197.90M493.10,160.4V165.30" stroke="#5e5e5e" stroke-width="1.1"/>
<text x="493.10" y="214.90" font-size="9.8" text-anchor="middle">1.8</text>
<path d="M542.50,202.8V197.90M542.50,160.4V165.30" stroke="#5e5e5e" stroke-width="1.1"/>
<text x="542.50" y="214.90" font-size="9.8" text-anchor="middle">2</text>
<path d="M48.5,200.15H53.40M542.5,200.15H537.60" stroke="#5e5e5e" stroke-width="1.1"/>
<text x="45.30" y="203.65" font-size="9.8" text-anchor="end">-5</text>
<path d="M48.5,186.90H53.40M542.5,186.90H537.60" stroke="#5e5e5e" stroke-width="1.1"/>
<text x="45.30" y="190.40" font-size="9.8" text-anchor="end">0</text>
<path d="M48.5,173.65H53.40M542.5,173.65H537.60" stroke="#5e5e5e" stroke-width="1.1"/>
<text x="45.30" y="177.15" font-size="9.8" text-anchor="end">5</text>
<path d="M48.5,160.40H53.40M542.5,160.40H537.60" stroke="#5e5e5e" stroke-width="1.1"/>
<text x="45.30" y="163.90" font-size="9.8" text-anchor="end">10</text>
<text transform="translate(295.70,156.00) scale(1,0.93)" font-size="10" text-anchor="middle">noise signal</text>
<line x1="97.90" y1="232.80" x2="97.90" y2="275.40" stroke="#ebebeb" stroke-width="0.8"/>
<line x1="147.30" y1="232.80" x2="147.30" y2="275.40" stroke="#ebebeb" stroke-width="0.8"/>
<line x1="196.70" y1="232.80" x2="196.70" y2="275.40" stroke="#ebebeb" stroke-width="0.8"/>
<line x1="246.10" y1="232.80" x2="246.10" y2="275.40" stroke="#ebebeb" stroke-width="0.8"/>
<line x1="295.50" y1="232.80" x2="295.50" y2="275.40" stroke="#ebebeb" stroke-width="0.8"/>
<line x1="344.90" y1="232.80" x2="344.90" y2="275.40" stroke="#ebebeb" stroke-width="0.8"/>
<line x1="394.30" y1="232.80" x2="394.30" y2="275.40" stroke="#ebebeb" stroke-width="0.8"/>
<line x1="443.70" y1="232.80" x2="443.70" y2="275.40" stroke="#ebebeb" stroke-width="0.8"/>
<line x1="493.10" y1="232.80" x2="493.10" y2="275.40" stroke="#ebebeb" stroke-width="0.8"/>
<line x1="48.5" y1="254.10" x2="542.5" y2="254.10" stroke="#ebebeb" stroke-width="0.8"/>
<path d="M48.4,257.3 L49.2,263.1 L49.7,255.2 L50.3,247.2 L50.9,251.6 L51.5,255.9 L52.0,260.9 L52.6,265.9 L53.2,271.7 L53.8,274.6 L54.3,267.4 L54.9,258.8 L55.5,257.3 L56.1,260.9 L56.6,258.0 L57.2,255.2 L57.8,257.3 L58.4,253.0 L58.9,250.1 L59.5,255.2 L60.1,262.3 L60.7,259.5 L61.2,253.7 L61.8,250.1 L62.4,249.4 L63.2,250.1 L64.1,249.4 L65.0,253.0 L65.8,255.9 L66.7,254.4 L67.6,248.7 L68.4,248.0 L69.3,247.2 L70.2,246.1 L71.0,246.5 L71.9,248.0 L72.7,250.8 L73.6,253.0 L74.5,254.4 L75.3,252.3 L76.2,254.4 L77.0,256.6 L77.9,253.7 L78.8,250.8 L79.6,253.0 L80.5,258.8 L81.4,260.2 L82.2,257.3 L83.1,258.0 L83.9,257.3 L84.8,258.8 L85.7,259.5 L86.5,260.2 L87.4,259.5 L88.3,260.2 L89.1,258.8 L90.0,258.0 L90.8,256.6 L91.7,253.7 L92.6,251.6 L93.4,253.0 L94.3,255.2 L95.2,251.6 L96.0,248.7 L96.9,250.1 L97.7,252.3 L98.6,249.4 L99.5,246.5 L100.3,245.8 L101.2,248.0 L102.1,254.4 L102.9,251.6 L103.8,249.4 L104.6,253.0 L105.5,255.2 L106.4,255.9 L107.2,257.3 L108.1,258.8 L109.0,257.3 L109.8,255.9 L110.7,259.5 L111.5,260.9 L112.4,259.5 L113.3,255.2 L114.1,253.7 L115.0,256.6 L115.8,258.8 L116.7,255.9 L117.6,253.0 L118.0,250.1 L118.9,250.8 L119.7,249.4 L120.6,250.1 L121.5,251.6 L122.3,251.6 L123.2,251.6 L124.0,250.8 L124.9,249.4 L125.8,248.0 L126.6,248.7 L127.5,251.6 L128.3,250.8 L129.2,251.6 L130.1,253.0 L130.9,252.3 L131.8,253.7 L132.7,255.2 L133.5,254.4 L134.4,258.0 L135.2,263.8 L136.1,263.1 L137.0,255.9 L137.8,251.6 L138.7,253.0 L139.6,255.2 L140.4,254.4 L141.3,255.2 L142.2,256.6 L143.0,258.8 L143.9,260.9 L144.7,260.2 L145.6,258.8 L146.5,258.0 L147.3,257.3 L148.2,258.0 L149.1,256.6 L149.9,255.2 L150.8,246.5 L151.6,244.4 L152.5,255.9 L153.4,253.7 L154.2,251.6 L155.1,253.0 L155.9,248.0 L156.8,243.7 L157.7,241.5 L158.5,240.8 L159.4,244.4 L160.3,248.0 L161.1,248.7 L162.0,250.1 L162.8,252.3 L163.7,255.2 L164.6,256.6 L165.4,253.7 L166.3,251.6 L167.2,249.4 L168.0,253.0 L168.9,258.8 L169.7,258.0 L170.6,255.2 L171.5,253.7 L172.3,255.9 L173.2,258.0 L174.1,255.9 L174.9,256.6 L175.8,258.8 L176.6,262.3 L177.5,260.2 L178.4,255.9 L179.2,253.0 L180.1,250.8 L180.9,253.7 L181.8,255.9 L182.7,252.3 L183.5,249.4 L184.4,247.2 L185.3,250.8 L186.1,255.2 L187.0,256.6 L187.8,255.2 L188.7,253.7 L189.6,253.0 L190.0,253.7 L190.9,252.3 L191.7,255.2 L192.6,255.9 L193.4,253.7 L194.3,251.6 L195.2,250.8 L196.0,253.0 L196.9,255.2 L197.8,253.7 L198.6,253.7 L199.5,252.3 L200.3,251.6 L201.2,253.7 L202.1,255.9 L202.9,257.3 L203.8,258.8 L204.7,258.0 L205.5,257.3 L206.4,258.0 L207.2,255.9 L208.1,253.0 L209.0,251.6 L209.8,250.8 L210.7,251.6 L211.6,250.1 L212.4,247.2 L213.3,249.4 L214.2,255.2 L215.0,260.2 L215.9,258.0 L216.7,255.9 L217.6,253.7 L218.5,251.6 L219.3,253.7 L220.2,255.2 L221.1,253.7 L221.9,251.6 L222.8,248.7 L223.6,246.5 L224.5,248.0 L225.4,252.3 L226.2,253.7 L227.1,251.6 L227.9,253.0 L228.8,255.2 L229.7,258.0 L230.5,261.6 L231.4,260.2 L232.3,258.0 L233.1,256.6 L234.0,257.3 L234.8,256.6 L235.7,255.9 L236.6,256.6 L237.4,255.2 L238.3,251.6 L239.2,250.1 L240.0,251.6 L240.9,250.1 L241.7,251.6 L242.6,252.3 L243.5,250.1 L244.3,249.4 L245.2,255.9 L245.8,259.5 L246.3,258.0 L247.2,253.0 L248.1,252.3 L248.9,253.7 L249.8,254.4 L250.7,253.0 L251.5,253.7 L252.4,254.4 L253.2,252.3 L254.1,253.7 L255.0,255.2 L255.8,256.6 L256.7,255.2 L257.6,251.6 L258.4,247.2 L259.3,244.4 L260.1,245.8 L261.0,250.1 L261.9,251.6 L262.0,251.6 L262.9,252.3 L263.7,253.7 L264.6,255.2 L265.4,255.2 L266.3,255.9 L267.2,256.6 L268.0,258.0 L268.9,259.5 L269.8,260.2 L270.6,258.8 L271.5,256.6 L272.4,251.6 L273.2,255.2 L274.1,258.8 L274.9,253.7 L275.8,250.8 L276.7,253.7 L277.5,251.6 L278.4,255.2 L279.2,256.6 L280.1,253.7 L281.0,252.3 L281.8,253.0 L282.7,251.6 L283.6,255.2 L284.4,258.0 L285.3,256.6 L286.1,253.0 L287.0,250.1 L287.9,251.6 L288.7,250.8 L289.6,250.1 L290.5,249.4 L291.3,250.1 L292.2,248.7 L293.1,250.1 L293.9,252.3 L294.8,253.7 L295.6,254.4 L296.5,255.9 L297.4,253.7 L298.2,251.6 L299.1,252.3 L299.9,253.7 L300.8,254.4 L301.7,255.2 L302.5,256.6 L303.4,258.0 L304.3,255.9 L305.1,253.0 L306.0,255.2 L306.8,256.6 L307.7,254.4 L308.6,253.0 L309.4,255.9 L310.3,258.8 L311.2,260.2 L312.0,259.5 L312.9,260.2 L313.7,263.1 L314.6,265.2 L315.5,262.3 L316.3,257.3 L317.2,253.7 L318.1,252.3 L318.9,253.7 L319.8,252.3 L320.6,251.6 L321.5,252.3 L322.4,250.8 L323.2,248.7 L324.1,247.2 L324.9,245.8 L325.8,242.9 L326.4,241.5 L327.0,247.2 L327.5,255.9 L328.1,253.0 L328.7,245.8 L329.3,243.7 L329.8,249.4 L330.7,255.2 L331.6,253.7 L332.4,255.9 L333.3,256.6 L334.0,253.7 L334.9,254.4 L335.7,257.3 L336.6,258.8 L337.4,258.0 L338.3,259.5 L339.2,260.2 L340.0,259.5 L340.9,260.9 L341.8,260.2 L342.6,259.5 L343.5,258.8 L344.4,258.0 L345.2,256.6 L346.1,255.2 L346.9,253.0 L347.8,255.2 L348.4,256.6 L349.2,250.1 L350.1,245.8 L351.0,244.4 L351.8,245.8 L352.7,253.0 L353.6,264.5 L354.1,266.6 L355.0,258.8 L355.9,251.6 L356.7,250.1 L357.6,251.6 L358.4,247.2 L359.1,243.7 L359.9,248.7 L360.7,253.0 L361.6,255.9 L362.5,258.0 L363.3,254.4 L364.2,255.2 L365.1,258.0 L365.9,260.9 L366.8,262.3 L367.6,255.9 L368.5,250.8 L369.4,251.6 L370.2,255.2 L371.1,258.0 L371.9,255.9 L372.8,253.7 L373.7,254.4 L374.5,253.0 L375.4,255.9 L376.3,257.3 L377.1,256.6 L378.0,255.2 L378.8,253.7 L379.7,252.3 L380.6,250.8 L381.4,250.1 L382.3,249.4 L383.2,250.1 L384.0,250.1 L384.9,250.8 L385.7,252.3 L386.6,255.2 L387.5,256.6 L388.3,254.4 L389.2,251.6 L390.1,260.2 L390.9,258.8 L391.8,253.7 L392.6,253.0 L393.5,254.4 L394.4,255.2 L395.2,253.7 L396.1,255.2 L396.9,256.6 L397.8,254.4 L398.7,253.0 L399.5,255.2 L400.4,253.0 L401.3,255.2 L402.1,259.5 L403.0,256.6 L403.9,253.7 L404.7,252.3 L405.6,251.6 L406.0,252.3 L406.9,253.0 L407.7,255.2 L408.6,254.4 L409.4,252.3 L410.3,251.6 L411.2,253.0 L412.0,251.6 L412.9,253.0 L413.8,252.3 L414.6,251.6 L415.5,253.0 L416.4,250.8 L417.2,252.3 L418.1,255.2 L418.9,260.2 L419.8,260.9 L420.7,256.6 L421.5,253.7 L422.4,252.3 L423.2,250.8 L424.1,250.1 L425.0,252.3 L425.8,254.4 L426.7,255.2 L427.6,255.9 L428.4,255.2 L429.3,257.3 L430.1,258.0 L431.0,255.9 L431.9,257.3 L432.7,259.5 L433.6,258.0 L434.5,254.4 L435.3,256.6 L436.2,255.2 L437.1,253.0 L437.9,250.8 L438.8,252.3 L439.6,250.8 L440.5,249.4 L441.4,246.5 L442.2,242.9 L443.1,243.7 L443.9,246.5 L444.8,250.1 L445.7,253.0 L446.5,256.6 L447.4,258.8 L448.3,259.5 L449.1,258.8 L450.0,255.9 L450.8,252.3 L451.7,251.6 L452.6,255.2 L453.4,258.0 L454.3,258.8 L455.2,259.5 L456.0,256.6 L456.9,254.4 L457.7,253.0 L458.6,251.6 L459.5,251.6 L460.3,252.3 L461.2,253.0 L462.1,252.3 L462.9,253.7 L463.8,255.2 L464.6,253.0 L465.5,252.3 L466.4,253.7 L467.2,255.2 L468.1,255.9 L468.9,257.3 L469.8,255.9 L470.0,256.6 L470.9,253.0 L471.7,250.1 L472.6,248.7 L473.4,250.8 L474.3,253.0 L475.2,250.8 L476.0,249.4 L476.9,251.6 L477.8,253.0 L478.6,250.8 L479.5,248.7 L480.4,250.1 L481.2,253.0 L482.1,253.7 L482.9,254.4 L483.8,255.9 L484.7,257.3 L485.5,256.6 L486.4,258.0 L487.2,258.8 L488.1,259.5 L489.0,260.2 L489.8,260.9 L490.7,258.0 L491.6,254.4 L492.4,258.0 L493.0,260.2 L493.9,257.3 L494.7,255.2 L495.6,254.4 L496.4,255.9 L497.3,255.2 L498.2,254.4 L499.0,255.9 L499.9,255.2 L500.8,253.7 L501.6,253.0 L502.5,251.6 L503.4,250.8 L504.2,253.0 L505.1,254.4 L505.9,252.3 L506.8,248.7 L507.7,247.2 L508.5,249.4 L509.4,251.6 L510.2,248.7 L511.1,247.2 L512.0,250.1 L512.8,254.4 L513.7,256.6 L514.6,255.2 L515.4,255.9 L516.3,258.0 L517.1,258.8 L518.0,260.2 L518.9,258.0 L519.7,255.9 L520.6,255.2 L521.5,257.3 L522.3,256.6 L523.2,255.9 L524.0,257.3 L524.9,258.0 L525.8,256.6 L526.6,258.0 L527.5,258.8 L528.4,259.5 L529.2,260.2 L530.1,258.8 L530.9,257.3 L531.8,255.9 L532.7,253.7 L533.5,250.8 L534.4,248.0 L535.2,245.8 L536.1,246.5 L537.0,248.7 L537.8,250.1 L538.7,250.1 L539.6,251.6 L540.4,253.0 L541.3,253.7 L542.6,253.7" fill="none" stroke="#4898d6" stroke-width="1.05" stroke-linejoin="round"/>
<rect x="48.5" y="232.8" width="494.0" height="42.60" fill="none" stroke="#5e5e5e" stroke-width="1.2"/>
<path d="M48.50,275.4V270.50M48.50,232.8V237.70" stroke="#5e5e5e" stroke-width="1.1"/>
<text x="48.50" y="287.50" font-size="9.8" text-anchor="middle">0</text>
<path d="M97.90,275.4V270.50M97.90,232.8V237.70" stroke="#5e5e5e" stroke-width="1.1"/>
<text x="97.90" y="287.50" font-size="9.8" text-anchor="middle">0.2</text>
<path d="M147.30,275.4V270.50M147.30,232.8V237.70" stroke="#5e5e5e" stroke-width="1.1"/>
<text x="147.30" y="287.50" font-size="9.8" text-anchor="middle">0.4</text>
<path d="M196.70,275.4V270.50M196.70,232.8V237.70" stroke="#5e5e5e" stroke-width="1.1"/>
<text x="196.70" y="287.50" font-size="9.8" text-anchor="middle">0.6</text>
<path d="M246.10,275.4V270.50M246.10,232.8V237.70" stroke="#5e5e5e" stroke-width="1.1"/>
<text x="246.10" y="287.50" font-size="9.8" text-anchor="middle">0.8</text>
<path d="M295.50,275.4V270.50M295.50,232.8V237.70" stroke="#5e5e5e" stroke-width="1.1"/>
<text x="295.50" y="287.50" font-size="9.8" text-anchor="middle">1</text>
<path d="M344.90,275.4V270.50M344.90,232.8V237.70" stroke="#5e5e5e" stroke-width="1.1"/>
<text x="344.90" y="287.50" font-size="9.8" text-anchor="middle">1.2</text>
<path d="M394.30,275.4V270.50M394.30,232.8V237.70" stroke="#5e5e5e" stroke-width="1.1"/>
<text x="394.30" y="287.50" font-size="9.8" text-anchor="middle">1.4</text>
<path d="M443.70,275.4V270.50M443.70,232.8V237.70" stroke="#5e5e5e" stroke-width="1.1"/>
<text x="443.70" y="287.50" font-size="9.8" text-anchor="middle">1.6</text>
<path d="M493.10,275.4V270.50M493.10,232.8V237.70" stroke="#5e5e5e" stroke-width="1.1"/>
<text x="493.10" y="287.50" font-size="9.8" text-anchor="middle">1.8</text>
<path d="M542.50,275.4V270.50M542.50,232.8V237.70" stroke="#5e5e5e" stroke-width="1.1"/>
<text x="542.50" y="287.50" font-size="9.8" text-anchor="middle">2</text>
<path d="M48.5,275.40H53.40M542.5,275.40H537.60" stroke="#5e5e5e" stroke-width="1.1"/>
<text x="45.30" y="278.90" font-size="9.8" text-anchor="end">-10</text>
<path d="M48.5,254.10H53.40M542.5,254.10H537.60" stroke="#5e5e5e" stroke-width="1.1"/>
<text x="45.30" y="257.60" font-size="9.8" text-anchor="end">0</text>
<path d="M48.5,232.80H53.40M542.5,232.80H537.60" stroke="#5e5e5e" stroke-width="1.1"/>
<text x="45.30" y="236.30" font-size="9.8" text-anchor="end">10</text>
<text transform="translate(295.70,228.20) scale(1,0.93)" font-size="10" text-anchor="middle">De-noising signal</text>
<text transform="translate(295.70,300.10) scale(1,0.97)" font-size="10" text-anchor="middle">Time/s</text>
<text transform="translate(10.4,142.2) rotate(-90) scale(1,0.93)" font-size="10" text-anchor="middle">Amplitude/<tspan font-style="italic">μ</tspan>V</text>
<text x="298.0" y="320.6" font-size="11" letter-spacing="1.0" text-anchor="middle" style="font-family:'Liberation Serif',serif;font-weight:bold;stroke:none">(e)</text>
</svg></body></html>
